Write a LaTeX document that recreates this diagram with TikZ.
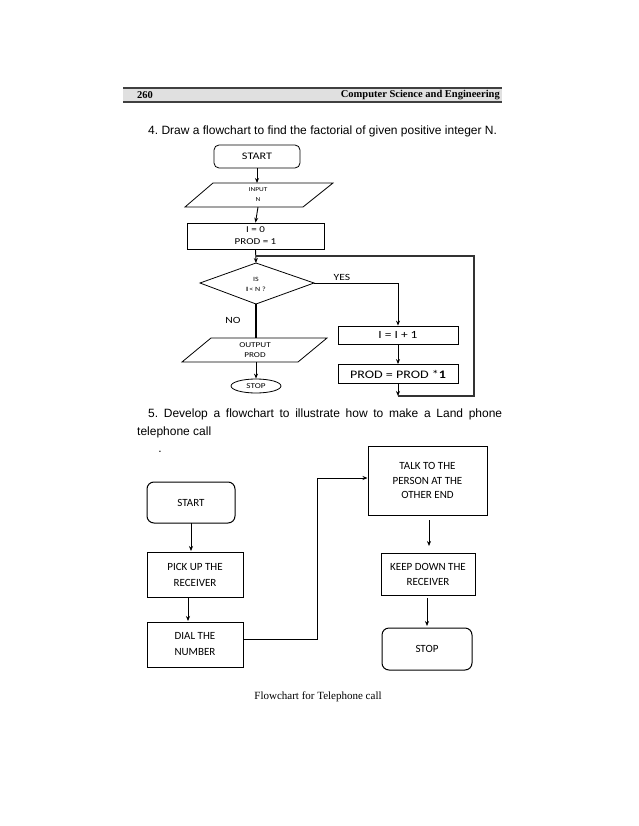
\documentclass[tikz,border=0pt]{standalone}
\usepackage{fontspec}
\setmainfont{Liberation Serif}
\newfontfamily\fc{Carlito}
\newfontfamily\fcw[FakeStretch=1.22]{Carlito}
\newfontfamily\sans{Liberation Sans}
\usetikzlibrary{arrows.meta,shapes.geometric}
\frenchspacing
\tikzset{
  box/.style={draw, line width=0.8pt, align=center, inner sep=0pt},
  rbox/.style={box, rounded corners=5pt},
  arr/.style={-{Stealth[length=5pt,width=4pt]}, line width=0.9pt},
  lbl/.style={inner sep=0pt},
}
\begin{document}
\begin{tikzpicture}[x=1pt,y=-1pt]
\useasboundingbox (0,0) rectangle (638,826);
% header
\fill[black!12] (123,88) rectangle (502,102);
\draw[line width=1.6pt, black!75] (123,88) -- (502,88);
\draw[line width=1.6pt, black!75] (123,102) -- (502,102);
\node[anchor=west, font=\bfseries\fontsize{10.5}{12}\selectfont, inner sep=0pt] (pg) at (137,95) {260};
\node[anchor=east, font=\bfseries\fontsize{10.5}{12}\selectfont, inner sep=0pt] (hd) at (500,95) {Computer Science and Engineering};
% question 4
\node[anchor=west, font=\sans\fontsize{12}{14}\selectfont, inner sep=0pt] (q4) at (148,131) {4. Draw a flowchart to find the factorial of given positive integer N.};
% flowchart 1
\node[rbox, minimum width=86pt, minimum height=23pt, font=\fcw\fontsize{10}{12}\selectfont] (st) at (257,156.5) {START};
\draw[box] (213,183) -- (333,183) -- (303,207) -- (185,207) -- cycle;
\node[lbl, font=\fcw\fontsize{6}{10}\selectfont, align=center] (inp) at (258,195) {INPUT\\N};
\node[box, minimum width=137pt, minimum height=26pt, font=\fcw\fontsize{9}{12}\selectfont] (init) at (255.5,236) {I = 0\\PROD = 1};
\draw[box] (256,263) -- (314,283) -- (256,304) -- (200,283) -- cycle;
\coordinate (dt) at (256,263);
\coordinate (dr) at (314,283);
\coordinate (db) at (256,304);
\node[lbl, font=\fcw\fontsize{6.5}{10}\selectfont, align=center] (isq) at (256,284) {IS\\\textbf{I}{\,}< N ?};
\node[box, minimum width=120pt, minimum height=18pt, font=\fcw\fontsize{11}{12}\selectfont] (inc) at (398,335) {I = I + 1};
\node[box, minimum width=120pt, minimum height=19pt, font=\fcw\fontsize{11.5}{12}\selectfont] (prod) at (398,374) {PROD = PROD *\textbf{1}};
\draw[box] (211,338) -- (327,338) -- (298,362) -- (182,362) -- cycle;
\node[lbl, font=\fcw\fontsize{7.5}{10}\selectfont, align=center] (outp) at (255,350) {OUTPUT\\PROD};
\coordinate (ot) at (256,338);
\coordinate (ob) at (256,362);
\node[draw, ellipse, line width=0.8pt, minimum width=50pt, minimum height=14pt, inner sep=0pt, font=\fcw\fontsize{7.5}{8}\selectfont] (stop1) at (256,386) {STOP};
\node[lbl, font=\fcw\fontsize{9.5}{10}\selectfont] (yes) at (342,277) {YES};
\node[lbl, font=\fcw\fontsize{9.5}{10}\selectfont] (no) at (233,320) {NO};
\coordinate (lp1) at (474,256);
\coordinate (lp2) at (474,396);
\coordinate (lp3) at (398,396);
\coordinate (lp0) at (256,256);

\draw[arr] (st.south) -- (257,183);
\draw[arr] (258,207) -- (init.north);
\draw[arr] (init.south) -- (dt);
\draw[arr] (dr) -| (inc.north);
\draw[line width=1.6pt] (db) -- (ot);
\draw[arr] (inc.south) -- (prod.north);
\draw[arr] (ob) -- (stop1.north);
\draw[arr] (prod.south) -- (lp3);
\draw[line width=1.6pt, black!80] (lp3) -- (lp2) -- (lp1) -- (lp0);

% question 5
\node[anchor=west, font=\sans\fontsize{12}{14}\selectfont, inner sep=0pt] (q5a) at (148,414) {\makebox[354pt][s]{5. Develop a flowchart to illustrate how to make a Land phone}};
\node[anchor=west, font=\sans\fontsize{12}{14}\selectfont, inner sep=0pt] (q5b) at (137,432) {telephone call};
\node[font=\sans\fontsize{12}{14}\selectfont, inner sep=0pt] (dot) at (160,452) {.};

% flowchart 2
\tikzset{fb/.style={box, line width=1pt, font=\fc\fontsize{11}{16}\selectfont}}
\node[fb, rounded corners=7pt, minimum width=88pt, minimum height=41pt] (st2) at (191,502.5) {START};
\node[fb, minimum width=96pt, minimum height=45pt] (pick) at (195,574.5) {PICK UP THE\\RECEIVER};
\node[fb, minimum width=96pt, minimum height=45pt] (dial) at (195,644.5) {DIAL THE\\NUMBER};
\node[fb, minimum width=119pt, minimum height=69pt, font=\fc\fontsize{11}{14.5}\selectfont] (talk) at (427.5,480.5) {TALK TO THE\\PERSON AT THE\\OTHER END};
\node[fb, minimum width=94pt, minimum height=42pt, font=\fc\fontsize{11}{15}\selectfont] (keep) at (428,574) {KEEP DOWN THE\\RECEIVER};
\node[fb, rounded corners=7pt, minimum width=90pt, minimum height=42pt] (stop2) at (427,649) {STOP};
\tikzset{arr2/.style={-{Stealth[length=5pt,width=4pt]}, line width=0.7pt}}
\draw[arr2] (191,523) -- (191,551);
\draw[arr2] (188,597) -- (188,621);
\draw[arr2] (dial.east |- 0,639) -- (317,639) -- (317,478) -- (talk.west |- 0,478);
\draw[arr2] (429,520) -- (429,546);
\draw[arr2] (427,598) -- (427,626);
\node[font=\fontsize{11}{13}\selectfont, inner sep=0pt] (cap) at (318,697) {Flowchart for Telephone call};
\end{tikzpicture}
\end{document}
